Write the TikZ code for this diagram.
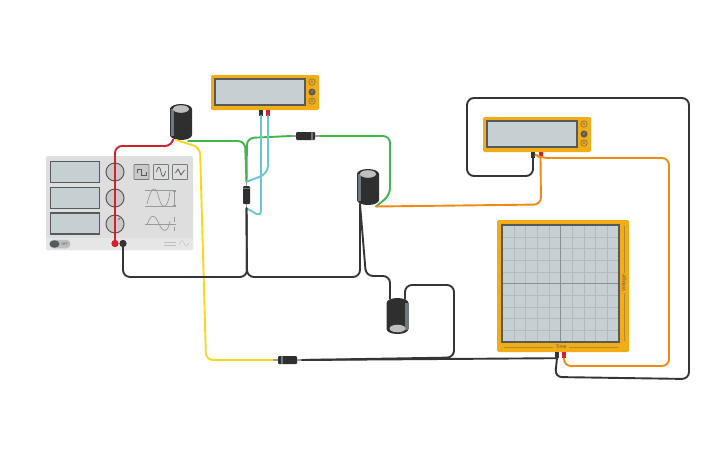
\documentclass[tikz,border=0pt]{standalone}
\usepackage{fontspec}
\usetikzlibrary{shapes.geometric}
\setmainfont{Liberation Sans}
\definecolor{mmorange}{HTML}{F2AC16}
\definecolor{lcd}{HTML}{C6D0D3}
\definecolor{frameg}{HTML}{555B5C}
\definecolor{psug}{HTML}{DEDEDE}
\definecolor{psul}{HTML}{E6E6E6}
\definecolor{knobg}{HTML}{C9C9C9}
\definecolor{icong}{HTML}{9A9A9A}
\definecolor{wblack}{HTML}{333536}
\definecolor{wgreen}{HTML}{41B649}
\definecolor{wcyan}{HTML}{69C6D4}
\definecolor{wyellow}{HTML}{F8D81E}
\definecolor{wred}{HTML}{D2202C}
\definecolor{worange}{HTML}{EF8A14}
\definecolor{capd}{HTML}{2F2F2F}
\definecolor{capl}{HTML}{BEBEBE}
\definecolor{capside}{HTML}{6F7780}
\tikzset{
 wire/.style={line width=1.9pt,rounded corners=7pt,line cap=round},
 meterbody/.style={fill=mmorange,draw=none,rounded corners=1.5pt,inner sep=0pt,minimum width=108pt,minimum height=35pt},
 lcdscreen/.style={fill=lcd,draw=frameg,line width=1.7pt,inner sep=0pt},
 dial/.style={circle,draw=frameg,line width=.4pt,fill=mmorange,minimum size=6.5pt,inner sep=0pt,font=\fontsize{4}{4}\selectfont,text=frameg},
 dialon/.style={circle,fill=frameg,minimum size=7pt,inner sep=0pt,font=\fontsize{4}{4}\selectfont,text=mmorange},
 knob/.style={circle,fill=knobg,draw=frameg,line width=1pt,minimum size=18pt,inner sep=0pt},
 wavebtn/.style={draw=frameg!80,line width=.7pt,fill=psug,minimum size=15pt,inner sep=0pt,rounded corners=.5pt},
 lead/.style={line width=1.5pt,color=icong},
 diodebody/.style={fill=capd,rounded corners=1pt,inner sep=0pt},
 pinblack/.style={fill=wblack,draw=none,minimum width=4pt,minimum height=6pt,inner sep=0pt},
 pinred/.style={fill=wred,draw=none,minimum width=4pt,minimum height=6pt,inner sep=0pt},
 tiny label/.style={font=\fontsize{5}{5}\selectfont,text=frameg,inner sep=0pt},
}
\newcommand{\capacitor}[5]{%
 \node[inner sep=0pt,minimum width=22pt,minimum height=#4pt-#3pt] (#1) at (#2,{(#3+#4)/2}) {};
 \fill[capd,rounded corners=0pt] (#2-11,#3+5) -- (#2-11,#4-5) arc[x radius=11,y radius=-5,start angle=180,end angle=360] -- (#2+11,#3+5) arc[x radius=11,y radius=-5,start angle=0,end angle=180] -- cycle;
 \fill[capside] ({#2+(#5)-1.5},#3+5) rectangle ({#2+(#5)+1.5},#4-4);
}
\begin{document}
\begin{tikzpicture}[x=1pt,y=-1pt]
\useasboundingbox (0,0) rectangle (725,453);
\fill[white] (0,0) rectangle (725,453);

% Power supply
\node[fill=psug,rounded corners=1.5pt,minimum width=147pt,minimum height=94pt,inner sep=0pt] (psu) at (119.5,203) {};
\fill[psul,rounded corners=1.5pt] (46,238) rectangle (193,250);
\node[lcdscreen,minimum width=49pt,minimum height=21pt] (d1) at (75,172) {};
\node[lcdscreen,minimum width=49pt,minimum height=21pt] (d2) at (75,198) {};
\node[lcdscreen,minimum width=49pt,minimum height=21pt] (d3) at (75,223.5) {};
\node[knob] (k1) at (115,172) {};
\node[knob] (k2) at (115,198) {};
\node[knob] (k3) at (115,224) {};
\draw[line width=.7pt,frameg] (k3.center) ++(5,-6) -- ++(-1.5,1.8);
\node[wavebtn,fill=knobg] (b1) at (141.5,172) {};
\node[wavebtn] (b2) at (161,172) {};
\node[wavebtn] (b3) at (180,172) {};
\draw[line width=.7pt,frameg] (137,173) -- (137,169) -- (141.5,169) -- (141.5,175.5) -- (146,175.5) -- (146,172);
\draw[line width=.7pt,frameg] (156.5,172) .. controls (158,165) and (160,166) .. (161,172) .. controls (162,178) and (164,178) .. (165.5,171);
\draw[line width=.7pt,frameg] (175.5,173) -- (178,169) -- (181,175) -- (184.5,170);
% wave icons
\draw[line width=.35pt,icong] (145,190) -- (176,190) (145,206) -- (176,206);
\draw[line width=.7pt,icong] (147,204) .. controls (152,184) and (156,186) .. (159,198) .. controls (162,210) and (168,210) .. (170,191);
\draw[line width=.5pt,icong] (174,191) -- (174,205) (172.5,191) -- (175.5,191) (172.5,205) -- (175.5,205);
\draw[line width=.35pt,icong] (145,224) -- (176,224);
\draw[line width=.7pt,icong] (147,225) .. controls (151,213) and (155,214) .. (159,224) .. controls (163,233) and (168,233) .. (170,221);
\draw[line width=.5pt,icong] (174,217) -- (174,222) (174,227) -- (174,231);
% switch
\node[fill=capl,rounded corners=4pt,minimum width=21pt,minimum height=8.5pt,inner sep=0pt] (sw) at (60,244) {};
\node[fill=frameg,ellipse,minimum width=10pt,minimum height=7.5pt,inner sep=0pt] (swk) at (54.5,244) {};
\node[font=\fontsize{3.5}{3.5}\selectfont,text=frameg,inner sep=0pt] (swt) at (65,244) {OFF};
\draw[line width=.3pt,capl] (164,242.5) -- (176,242.5) (164,245) -- (176,245);
\draw[line width=.4pt,capl] (179,245) .. controls (181,239) and (183,240) .. (184,243) .. controls (185,247) and (187,246) .. (189,243);

% Meter 1
\node[meterbody] (m1) at (265,92.5) {};
\node[lcdscreen,minimum width=90pt,minimum height=26pt] (m1s) at (260,92) {};
\node[dial] (m1a) at (312,82) {A};
\node[dialon] (m1b) at (312,92) {V};
\node[dial] (m1c) at (312,101) {Ω};
\node[pinblack] (m1n) at (261,112.5) {};
\node[pinred] (m1p) at (268,112.5) {};

% Meter 2
\node[meterbody] (m2) at (537,134.5) {};
\node[lcdscreen,minimum width=90pt,minimum height=26pt] (m2s) at (532,134) {};
\node[dial] (m2a) at (584,124) {A};
\node[dialon] (m2b) at (584,134) {V};
\node[dial] (m2c) at (584,143) {Ω};
\node[pinblack] (m2n) at (533,154.5) {};
\node[pinred] (m2p) at (540.5,154.5) {};

% Scope
\node[fill=mmorange,rounded corners=1.5pt,minimum width=132pt,minimum height=132pt,inner sep=0pt] (sc) at (563,286) {};
\node[lcdscreen,minimum width=117pt,minimum height=117pt] (scs) at (560.5,283.5) {};
\foreach \i in {1,...,9}{
 \draw[line width=.4pt,frameg!18!lcd] (502+11.7*\i,226) -- (502+11.7*\i,341);
 \draw[line width=.4pt,frameg!18!lcd] (503,225+11.7*\i) -- (618,225+11.7*\i);
}
\draw[line width=.6pt,frameg!55!lcd] (560.5,226) -- (560.5,341) (503,283.5) -- (618,283.5);
\draw[line width=.3pt,frameg!40!mmorange] (504,347) -- (553,347) (569,347) -- (618,347);
\draw[line width=.3pt,frameg!40!mmorange] (624,226) -- (624,273) (624,293) -- (624,341);
\node[tiny label] (tl) at (561,347) {Time};
\node[tiny label,rotate=90] (vl) at (624,283) {Voltage};
\node[pinblack] (scn) at (557,355) {};
\node[pinred] (scp) at (564,355) {};

% PSU terminals
\node[circle,fill=wred,minimum size=7pt,inner sep=0pt] (pp) at (115,243.5) {};
\node[circle,fill=wblack,minimum size=7pt,inner sep=0pt] (pn) at (123,243.5) {};

% Capacitors
\capacitor{c1}{181}{104}{140}{-9}
\capacitor{c2}{368}{169}{205}{-9}
\capacitor{c3}{397.5}{298}{334}{9}
\fill[capl] (181,109) ellipse[x radius=8,y radius=3.8];
\fill[capl] (368,174) ellipse[x radius=8,y radius=3.8];
\fill[capl] (397.5,328.5) ellipse[x radius=8,y radius=3.8];

% Diodes
\node[diodebody,minimum width=7pt,minimum height=18pt] (dv) at (246.5,195) {};
\fill[capside] (243,187.5) rectangle (250,189);
\draw[lead] (dv.north) -- ++(0,-4) coordinate (dvt);
\draw[lead] (dv.south) -- ++(0,4) coordinate (dvb);
\node[diodebody,minimum width=19pt,minimum height=8pt] (dh) at (305.5,136) {};
\fill[capside] (311,132) rectangle (312.5,140);
\draw[lead] (dh.west) -- ++(-5,0) coordinate (dhl);
\draw[lead] (dh.east) -- ++(5,0) coordinate (dhr);
\node[diodebody,minimum width=19pt,minimum height=8pt] (db) at (287.5,360) {};
\fill[capside] (281,356) rectangle (282.5,364);
\draw[lead] (db.west) -- ++(-5,0) coordinate (dbl);
\draw[lead] (db.east) -- ++(5,0) coordinate (dbr);

\coordinate (c1a) at (173,140);
\coordinate (c1b) at (188,141);
\coordinate (c1y) at (176,140);
\coordinate (c2a) at (360,204);
\coordinate (c2b) at (376,206.5);
\coordinate (c3a) at (390,299);
\coordinate (c3b) at (405,299);

% Wires
\draw[wire,wgreen] (c1b) -- (245,141) -- (dvt);
\draw[wire,wgreen] (dvt) -- (247,138) -- (dhl);
\draw[wire,wgreen] (dhr) -- (390,136) -- (390,195) -- (c2b);
\draw[wire,wcyan,rounded corners=5pt] (m1n.south) -- (261,216.5) -- (dvb);
\draw[wire,wcyan,rounded corners=8pt] (m1p.south) -- (268,173.5) -- (dvt);
\draw[wire,worange] (c2b) -- (541,204.5) -- (m2p.south);
\draw[wire,worange] (m2p.south) -- (541,158) -- (669,158) -- (669,366) -- (564,366) -- (scp.south);
\draw[wire,wred] (pp.center) -- (115,146) -- (172,146) -- (c1a);
\draw[wire,wyellow] (c1y) -- (200,147.5) -- (206,360) -- (dbl);
\draw[wire,wblack] (pn.center) -- (123,277) -- (247,277) -- (dvb);
\draw[wire,wblack] (dvb) -- (247,277) -- (360,277) -- (c2a);
\draw[wire,wblack] (c2a) -- (366,276) -- (390,276) -- (c3a);
\draw[wire,wblack] (c3b) -- (405,285) -- (454,285) -- (454,357.5) -- (dbr);
\draw[wire,wblack] (dbr) -- (scn.south);
\draw[wire,wblack] (scn.south) -- (555,377) -- (689,379) -- (689,98) -- (467,98) -- (467,176) -- (533,176) -- (m2n.south);

% terminals redrawn on top
\node[circle,fill=wred,minimum size=7pt,inner sep=0pt] at (pp) {};
\node[circle,fill=wblack,minimum size=7pt,inner sep=0pt] at (pn) {};
\end{tikzpicture}
\end{document}
